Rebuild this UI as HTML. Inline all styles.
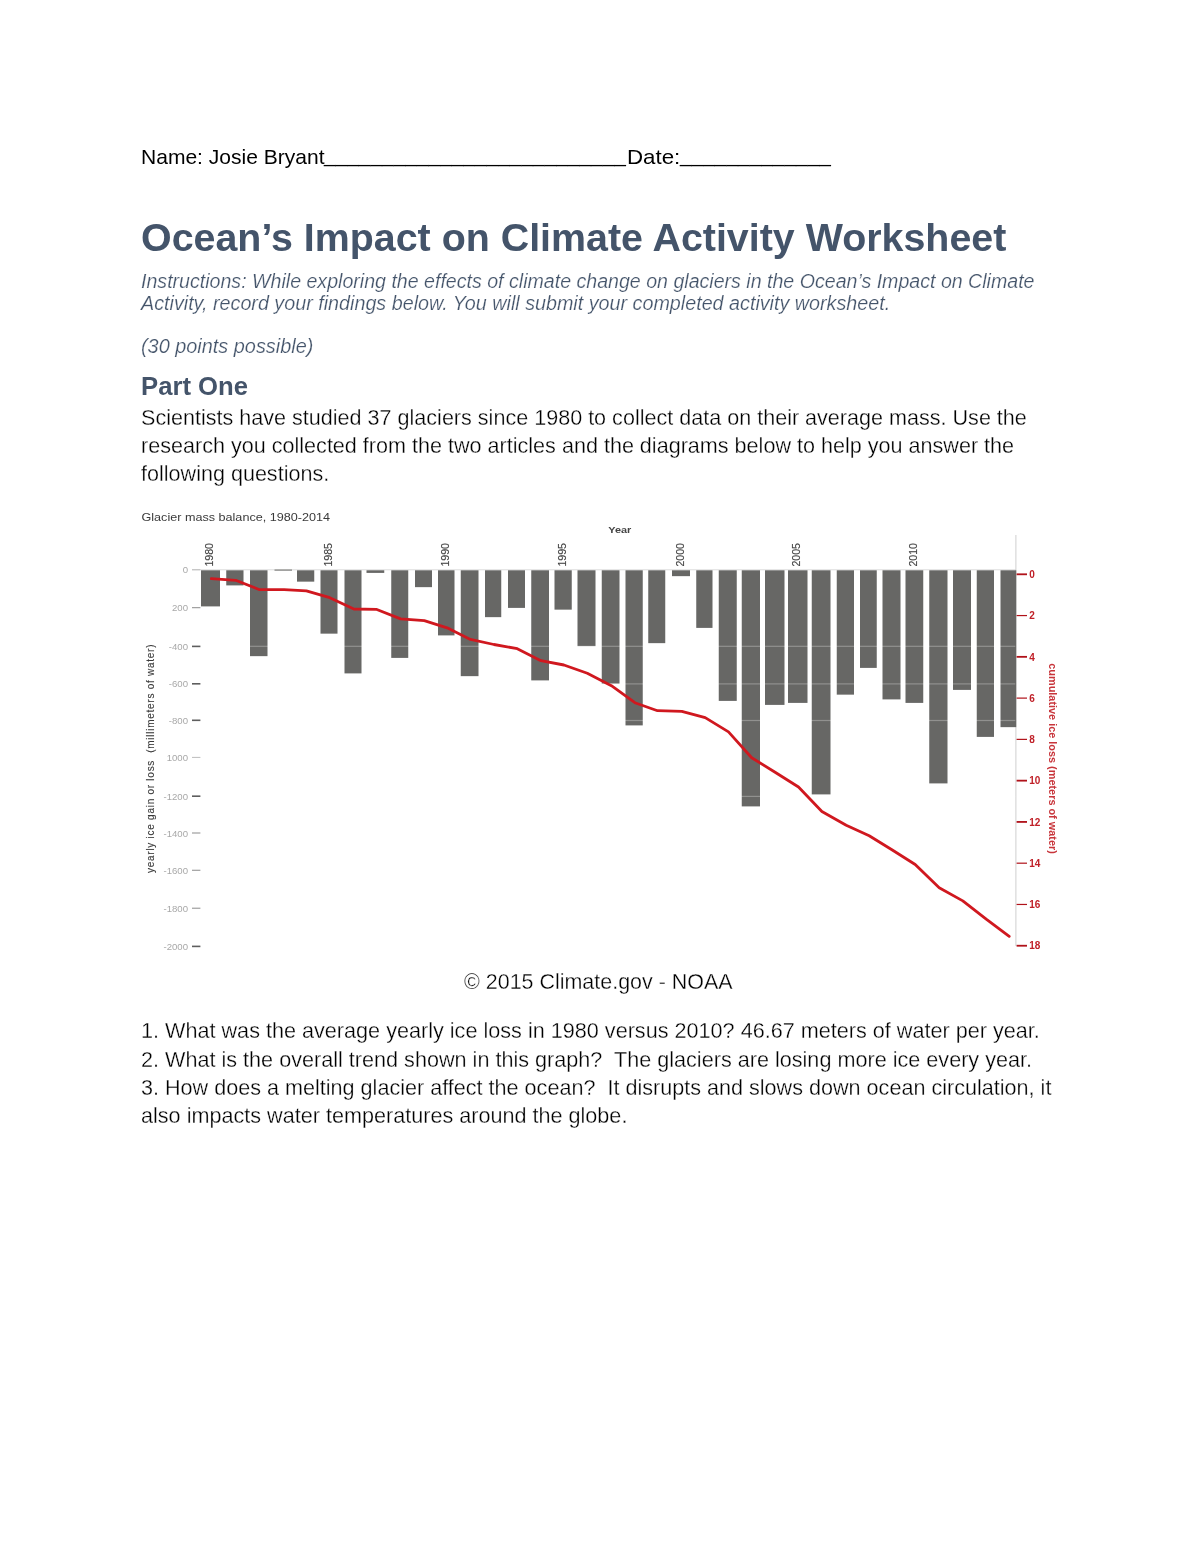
<!DOCTYPE html>
<html lang="en"><head><meta charset="utf-8"><title>Ocean’s Impact on Climate Activity Worksheet</title>
<style>
html,body{margin:0;padding:0;background:#fff;}
body{width:1200px;height:1553px;position:relative;overflow:hidden;font-family:"Liberation Sans",sans-serif;}
.t{position:absolute;white-space:pre;line-height:1;margin:0;padding:0;transform-origin:0 0;}
.thin{-webkit-text-stroke:0.3px #fff;}
.thin.i{-webkit-text-stroke:0.2px #fff;}
svg{position:absolute;left:0;top:0;}
</style></head><body>
<div class="t" id="t0" style="left:140.71px;top:146.60px;font-size:20.7px;font-weight:normal;font-style:normal;color:#000;transform:scaleX(1.0168)">Name: Josie Bryant</div>
<div class="t" id="t1" style="left:324.42px;top:144.96px;font-size:20.7px;font-weight:normal;font-style:normal;color:#000;transform:scaleX(1.0094)">__________________________</div>
<div class="t" id="t2" style="left:626.97px;top:146.68px;font-size:20.7px;font-weight:normal;font-style:normal;color:#000;transform:scaleX(1.0780)">Date:</div>
<div class="t" id="t3" style="left:680.42px;top:144.96px;font-size:20.7px;font-weight:normal;font-style:normal;color:#000;transform:scaleX(1.0089)">_____________</div>
<div class="t" id="t4" style="left:141.10px;top:217.91px;font-size:39.2px;font-weight:bold;font-style:normal;color:#44546A;transform:scaleX(1.0051)">Ocean’s Impact on Climate Activity Worksheet</div>
<div class="t thin i" id="t5" style="left:141.10px;top:271.73px;font-size:19.6px;font-weight:normal;font-style:italic;color:#44546A;transform:scaleX(0.9997)">Instructions: While exploring the effects of climate change on glaciers in the Ocean’s Impact on Climate</div>
<div class="t thin i" id="t6" style="left:141.10px;top:294.09px;font-size:19.6px;font-weight:normal;font-style:italic;color:#44546A;transform:scaleX(1.0068)">Activity, record your findings below. You will submit your completed activity worksheet.</div>
<div class="t thin i" id="t7" style="left:141.10px;top:336.68px;font-size:19.6px;font-weight:normal;font-style:italic;color:#44546A;transform:scaleX(1.0142)">(30 points possible)</div>
<div class="t" id="t8" style="left:141.10px;top:373.61px;font-size:25.5px;font-weight:bold;font-style:normal;color:#44546A;transform:scaleX(1.0069)">Part One</div>
<div class="t thin" id="t9" style="left:141.10px;top:408.36px;font-size:21.5px;font-weight:normal;font-style:normal;color:#000;transform:scaleX(1.0030)">Scientists have studied 37 glaciers since 1980 to collect data on their average mass. Use the</div>
<div class="t thin" id="t10" style="left:141.10px;top:435.91px;font-size:21.5px;font-weight:normal;font-style:normal;color:#000;transform:scaleX(1.0035)">research you collected from the two articles and the diagrams below to help you answer the</div>
<div class="t thin" id="t11" style="left:141.10px;top:463.98px;font-size:21.5px;font-weight:normal;font-style:normal;color:#000;transform:scaleX(1.0029)">following questions.</div>
<div class="t thin" id="t12" style="left:464.20px;top:972.12px;font-size:21.5px;font-weight:normal;font-style:normal;color:#000;transform:scaleX(0.9980)">© 2015 Climate.gov - NOAA</div>
<div class="t thin" id="t13" style="left:141.10px;top:1021.09px;font-size:21.5px;font-weight:normal;font-style:normal;color:#000;transform:scaleX(1.0055)">1. What was the average yearly ice loss in 1980 versus 2010? 46.67 meters of water per year.</div>
<div class="t thin" id="t14" style="left:141.10px;top:1049.65px;font-size:21.5px;font-weight:normal;font-style:normal;color:#000;transform:scaleX(1.0053)">2. What is the overall trend shown in this graph?  The glaciers are losing more ice every year.</div>
<div class="t thin" id="t15" style="left:141.10px;top:1078.12px;font-size:21.5px;font-weight:normal;font-style:normal;color:#000;transform:scaleX(1.0041)">3. How does a melting glacier affect the ocean?  It disrupts and slows down ocean circulation, it</div>
<div class="t thin" id="t16" style="left:141.10px;top:1106.48px;font-size:21.5px;font-weight:normal;font-style:normal;color:#000;transform:scaleX(1.0049)">also impacts water temperatures around the globe.</div>
<svg width="1200" height="1553" viewBox="0 0 1200 1553" font-family="Liberation Sans, sans-serif">
<rect x="192" y="569.3" width="824" height="1" fill="#dcdcdc"/>
<rect x="1015.4" y="535" width="1" height="411" fill="#cfcfcf"/>
<rect x="201.0" y="570.3" width="19.00" height="36.10" fill="#676765"/>
<rect x="226.25" y="570.3" width="17.25" height="15.10" fill="#676765"/>
<rect x="250.0" y="570.3" width="17.50" height="85.85" fill="#676765"/>
<rect x="274.5" y="569.3" width="17.50" height="1.6" fill="#9a9a98"/>
<rect x="297.0" y="570.3" width="17.25" height="11.35" fill="#676765"/>
<rect x="320.5" y="570.3" width="17.00" height="63.35" fill="#676765"/>
<rect x="344.5" y="570.3" width="17.00" height="103.10" fill="#676765"/>
<rect x="366.5" y="570.3" width="17.75" height="2.60" fill="#676765"/>
<rect x="391.25" y="570.3" width="17.00" height="87.60" fill="#676765"/>
<rect x="415.0" y="570.3" width="17.00" height="16.85" fill="#676765"/>
<rect x="438.0" y="570.3" width="16.50" height="65.10" fill="#676765"/>
<rect x="460.75" y="570.3" width="17.75" height="105.85" fill="#676765"/>
<rect x="485.0" y="570.3" width="16.25" height="46.85" fill="#676765"/>
<rect x="508.0" y="570.3" width="17.00" height="37.60" fill="#676765"/>
<rect x="531.25" y="570.3" width="17.75" height="110.10" fill="#676765"/>
<rect x="554.5" y="570.3" width="17.25" height="39.35" fill="#676765"/>
<rect x="577.5" y="570.3" width="18.00" height="75.85" fill="#676765"/>
<rect x="601.75" y="570.3" width="17.75" height="113.35" fill="#676765"/>
<rect x="625.5" y="570.3" width="17.25" height="155.10" fill="#676765"/>
<rect x="648.25" y="570.3" width="17.00" height="72.85" fill="#676765"/>
<rect x="672.0" y="570.3" width="18.00" height="5.85" fill="#676765"/>
<rect x="696.25" y="570.3" width="16.25" height="57.60" fill="#676765"/>
<rect x="718.75" y="570.3" width="18.00" height="130.60" fill="#676765"/>
<rect x="741.75" y="570.3" width="18.25" height="236.10" fill="#676765"/>
<rect x="765.0" y="570.3" width="19.50" height="134.60" fill="#676765"/>
<rect x="788.0" y="570.3" width="19.50" height="132.60" fill="#676765"/>
<rect x="811.75" y="570.3" width="18.75" height="224.10" fill="#676765"/>
<rect x="836.75" y="570.3" width="17.25" height="124.35" fill="#676765"/>
<rect x="860.0" y="570.3" width="16.75" height="97.60" fill="#676765"/>
<rect x="882.5" y="570.3" width="18.00" height="129.10" fill="#676765"/>
<rect x="905.5" y="570.3" width="17.75" height="132.60" fill="#676765"/>
<rect x="929.25" y="570.3" width="18.25" height="213.10" fill="#676765"/>
<rect x="953.0" y="570.3" width="18.00" height="119.60" fill="#676765"/>
<rect x="976.75" y="570.3" width="17.25" height="166.60" fill="#676765"/>
<rect x="1000.5" y="570.3" width="15.75" height="156.85" fill="#676765"/>
<rect x="196" y="645.6999999999999" width="819.3" height="1.2" fill="#ffffff" fill-opacity="0.28"/>
<rect x="196" y="683.3" width="819.3" height="1.2" fill="#ffffff" fill-opacity="0.28"/>
<rect x="196" y="719.9" width="819.3" height="1.2" fill="#ffffff" fill-opacity="0.28"/>
<rect x="196" y="795.8" width="819.3" height="1.2" fill="#ffffff" fill-opacity="0.28"/>
<rect x="192" y="569.25" width="8.4" height="1.0" fill="#bdbdbd"/>
<text x="188" y="573.35" font-size="9.6" text-anchor="end" fill="#a8a8a8">0</text>
<rect x="192" y="607.20" width="8.4" height="1.0" fill="#8c8c8c"/>
<text x="188" y="611.30" font-size="9.6" text-anchor="end" fill="#a8a8a8">200</text>
<rect x="192" y="645.60" width="8.4" height="1.6" fill="#5e5e5e"/>
<text x="188" y="650.00" font-size="9.6" text-anchor="end" fill="#a8a8a8">-400</text>
<rect x="192" y="683.00" width="8.4" height="1.6" fill="#5e5e5e"/>
<text x="188" y="687.40" font-size="9.6" text-anchor="end" fill="#a8a8a8">-600</text>
<rect x="192" y="719.50" width="8.4" height="1.6" fill="#5e5e5e"/>
<text x="188" y="723.90" font-size="9.6" text-anchor="end" fill="#a8a8a8">-800</text>
<rect x="192" y="756.90" width="8.4" height="1.0" fill="#bdbdbd"/>
<text x="188" y="761.00" font-size="9.6" text-anchor="end" fill="#a8a8a8">1000</text>
<rect x="192" y="795.40" width="8.4" height="1.6" fill="#5e5e5e"/>
<text x="188" y="799.80" font-size="9.6" text-anchor="end" fill="#a8a8a8">-1200</text>
<rect x="192" y="832.50" width="8.4" height="1.0" fill="#8c8c8c"/>
<text x="188" y="836.60" font-size="9.6" text-anchor="end" fill="#a8a8a8">-1400</text>
<rect x="192" y="869.75" width="8.4" height="1.0" fill="#8c8c8c"/>
<text x="188" y="873.85" font-size="9.6" text-anchor="end" fill="#a8a8a8">-1600</text>
<rect x="192" y="907.70" width="8.4" height="1.0" fill="#8c8c8c"/>
<text x="188" y="911.80" font-size="9.6" text-anchor="end" fill="#a8a8a8">-1800</text>
<rect x="192" y="945.60" width="8.4" height="1.6" fill="#5e5e5e"/>
<text x="188" y="950.00" font-size="9.6" text-anchor="end" fill="#a8a8a8">-2000</text>
<rect x="1016.6" y="573.40" width="10.4" height="1.8" fill="#B0121A"/>
<text x="1029.2" y="578.00" font-size="10" font-weight="bold" fill="#C02028">0</text>
<rect x="1016.6" y="614.97" width="10.4" height="1.2" fill="#B0121A"/>
<text x="1029.2" y="619.27" font-size="10" font-weight="bold" fill="#C02028">2</text>
<rect x="1016.6" y="655.94" width="10.4" height="1.8" fill="#B0121A"/>
<text x="1029.2" y="660.54" font-size="10" font-weight="bold" fill="#C02028">4</text>
<rect x="1016.6" y="697.51" width="10.4" height="1.2" fill="#B0121A"/>
<text x="1029.2" y="701.81" font-size="10" font-weight="bold" fill="#C02028">6</text>
<rect x="1016.6" y="738.78" width="10.4" height="1.2" fill="#B0121A"/>
<text x="1029.2" y="743.08" font-size="10" font-weight="bold" fill="#C02028">8</text>
<rect x="1016.6" y="779.75" width="10.4" height="1.8" fill="#B0121A"/>
<text x="1029.2" y="784.35" font-size="10" font-weight="bold" fill="#C02028">10</text>
<rect x="1016.6" y="821.02" width="10.4" height="1.8" fill="#B0121A"/>
<text x="1029.2" y="825.62" font-size="10" font-weight="bold" fill="#C02028">12</text>
<rect x="1016.6" y="862.59" width="10.4" height="1.2" fill="#B0121A"/>
<text x="1029.2" y="866.89" font-size="10" font-weight="bold" fill="#C02028">14</text>
<rect x="1016.6" y="903.86" width="10.4" height="1.2" fill="#B0121A"/>
<text x="1029.2" y="908.16" font-size="10" font-weight="bold" fill="#C02028">16</text>
<rect x="1016.6" y="944.83" width="10.4" height="1.8" fill="#B0121A"/>
<text x="1029.2" y="949.43" font-size="10" font-weight="bold" fill="#C02028">18</text>
<polyline points="211.3,578.6 235.7,580.3 259.6,589.7 284.1,589.6 306.4,590.8 329.8,597.7 353.8,609.0 376.2,609.3 400.6,618.9 424.3,620.7 447.1,627.8 470.4,639.4 493.9,644.5 517.3,648.7 540.9,660.7 563.9,665.0 587.3,673.3 611.4,685.7 634.9,702.7 657.5,710.7 681.8,711.3 705.2,717.6 728.5,731.9 751.7,757.7 775.5,772.5 798.5,787.0 821.9,811.5 846.2,825.2 869.2,835.8 892.3,850.0 915.2,864.5 939.2,887.8 962.8,900.9 986.2,919.2 1009.2,936.3" fill="none" stroke="#D0181F" stroke-width="2.8" stroke-linejoin="round" stroke-linecap="round"/>
<text x="141.5" y="520.6" font-size="11.3" fill="#3a3a3a" textLength="188.5" lengthAdjust="spacingAndGlyphs">Glacier mass balance, 1980-2014</text>
<text x="608.3" y="533.2" font-size="9.2" font-weight="bold" fill="#444" textLength="23" lengthAdjust="spacingAndGlyphs">Year</text>
<text transform="translate(213.10,566.6) rotate(-90)" font-size="10" fill="#444" stroke="#444" stroke-width="0.15" textLength="23.5" lengthAdjust="spacingAndGlyphs">1980</text>
<text transform="translate(331.60,566.6) rotate(-90)" font-size="10" fill="#444" stroke="#444" stroke-width="0.15" textLength="23.5" lengthAdjust="spacingAndGlyphs">1985</text>
<text transform="translate(448.85,566.6) rotate(-90)" font-size="10" fill="#444" stroke="#444" stroke-width="0.15" textLength="23.5" lengthAdjust="spacingAndGlyphs">1990</text>
<text transform="translate(565.73,566.6) rotate(-90)" font-size="10" fill="#444" stroke="#444" stroke-width="0.15" textLength="23.5" lengthAdjust="spacingAndGlyphs">1995</text>
<text transform="translate(683.60,566.6) rotate(-90)" font-size="10" fill="#444" stroke="#444" stroke-width="0.15" textLength="23.5" lengthAdjust="spacingAndGlyphs">2000</text>
<text transform="translate(800.35,566.6) rotate(-90)" font-size="10" fill="#444" stroke="#444" stroke-width="0.15" textLength="23.5" lengthAdjust="spacingAndGlyphs">2005</text>
<text transform="translate(916.98,566.6) rotate(-90)" font-size="10" fill="#444" stroke="#444" stroke-width="0.15" textLength="23.5" lengthAdjust="spacingAndGlyphs">2010</text>
<text transform="translate(154.3,873) rotate(-90)" font-size="10" fill="#3a3a3a" stroke="#3a3a3a" stroke-width="0.12" textLength="228.5" lengthAdjust="spacing">yearly ice gain or loss  (millimeters of water)</text>
<text transform="translate(1049.3,663.3) rotate(90)" font-size="10.4" font-weight="bold" fill="#C8353B" textLength="190.5" lengthAdjust="spacingAndGlyphs">cumulative ice loss (meters of water)</text>
</svg>
</body></html>
